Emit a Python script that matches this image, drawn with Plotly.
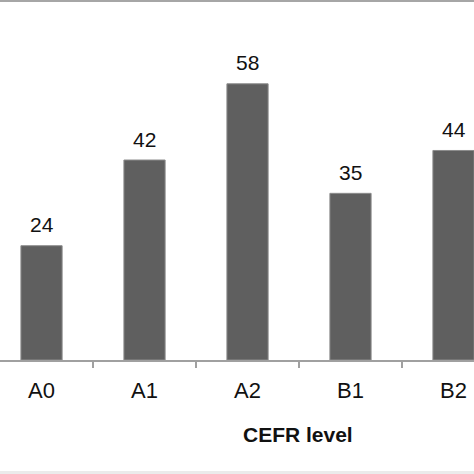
import plotly.graph_objects as go

levels = ['A0', 'A1', 'A2', 'B1', 'B2']
counts = [24, 42, 58, 35, 44]

fig = go.Figure()

fig.add_trace(go.Bar(x=levels, y=counts,
                     marker={'color': '#5f5f5f',
                             'line': {'color': '#8c8c8c', 'width': 1}},
                     width=0.4))

# value labels above bars
for lv, c in zip(levels, counts):
    fig.add_annotation(x=lv, y=c, text=str(c), showarrow=False,
                       yanchor='middle', yshift=21,
                       font={'size': 21, 'color': '#111111'})

fig.add_annotation(x=298 / 474, y=(360 - 434) / 360, xref='paper', yref='paper',
                   text='<b>CEFR level</b>', showarrow=False,
                   xanchor='center', yanchor='middle',
                   font={'size': 21, 'color': '#111111'})

# border remnants from the cropped source image
fig.add_shape(type='rect', xref='paper', yref='paper',
              x0=0, x1=1, y0=1 - 2 / 360, y1=1,
              fillcolor='#a6a6a6', line={'width': 0})
fig.add_shape(type='rect', xref='paper', yref='paper',
              x0=0, x1=1, y0=-114 / 360, y1=-111 / 360,
              fillcolor='#ebebeb', line={'width': 0})

fig.update_xaxes(range=[-0.403, 4.199],
                 showline=True, linecolor='#a0a0a0', linewidth=1.5,
                 ticks='outside', tickson='boundaries', ticklen=6,
                 tickcolor='#a0a0a0', tickwidth=1.5,
                 ticklabelstandoff=10,
                 tickfont={'size': 22, 'color': '#111111'},
                 showgrid=False, zeroline=False)
fig.update_yaxes(range=[0, 75.6], visible=False)

fig.update_layout(width=474, height=474,
                  margin={'l': 0, 'r': 0, 't': 0, 'b': 114},
                  plot_bgcolor='white', paper_bgcolor='white',
                  font={'family': 'Liberation Sans, Arial, sans-serif'},
                  showlegend=False)

fig.write_html("out.html",
               config={'displayModeBar': False},
               post_script="document.body.style.margin='0';")
